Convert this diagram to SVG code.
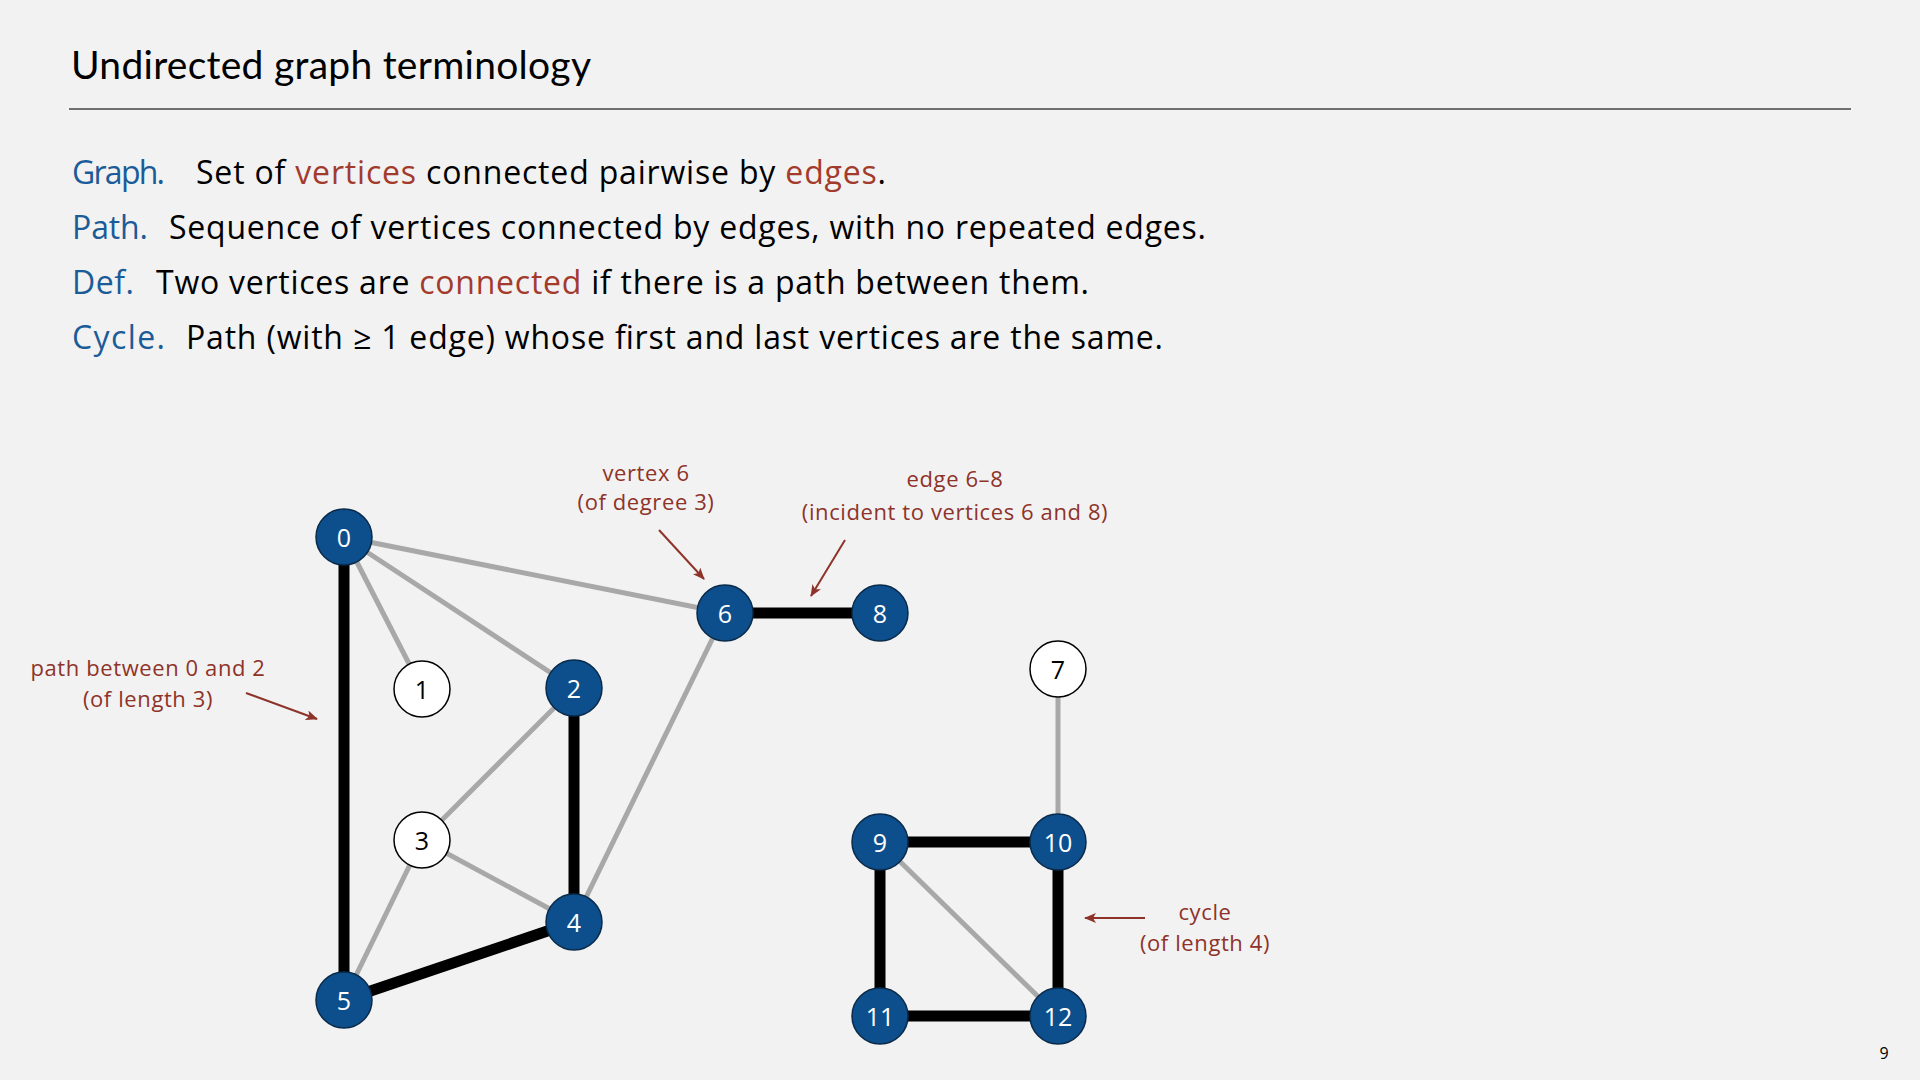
<svg xmlns="http://www.w3.org/2000/svg" width="1920" height="1080" viewBox="0 0 1920 1080">
<defs>
<style>
.bg{fill:#f2f2f2}
.title{font-family:"Lato","Liberation Sans",sans-serif;font-size:39px;fill:#000}
.body{font-family:"Open Sans","Liberation Sans",sans-serif;font-size:32px;fill:#000;white-space:pre}
.kw{fill:#1b5c98}
.hl{fill:#a33b2d}
.ann{font-family:"Open Sans","Liberation Sans",sans-serif;font-size:22px;letter-spacing:0.6px;fill:#8e3329;text-anchor:middle}
.arr{stroke:#8e3329;stroke-width:2;fill:none;marker-end:url(#ah)}
.g{stroke:#a8a8a8;stroke-width:5;fill:none}
.k{stroke:#000;stroke-width:11;fill:none}
.nb{fill:#0d4f8c;stroke:#0a2a4a;stroke-width:1.5}
.nw{fill:#fff;stroke:#000;stroke-width:1.5}
.lb{font-family:"Open Sans","Liberation Sans",sans-serif;font-size:25px;fill:#fff;text-anchor:middle;dominant-baseline:central}
.lw{font-family:"Open Sans","Liberation Sans",sans-serif;font-size:25px;fill:#000;text-anchor:middle;dominant-baseline:central}
</style>
<marker id="ah" viewBox="0 0 12 10" refX="11" refY="5" markerWidth="12" markerHeight="10" markerUnits="userSpaceOnUse" orient="auto">
<path d="M0,0 L12,5 L0,10 L3,5 Z" fill="#8e3329"/>
</marker>
</defs>
<rect class="bg" x="0" y="0" width="1920" height="1080"/>
<text class="title" x="71" y="79" textLength="520" lengthAdjust="spacing">Undirected graph terminology</text>
<line x1="69" y1="109" x2="1851" y2="109" stroke="#444" stroke-width="1.5"/>

<g id="body">
<text class="body kw" x="72" y="184" textLength="93" lengthAdjust="spacing">Graph.</text>
<text class="body" x="196" y="184" textLength="690" lengthAdjust="spacing">Set of <tspan class="hl">vertices</tspan> connected pairwise by <tspan class="hl">edges</tspan>.</text>
<text class="body kw" x="72" y="239" textLength="76" lengthAdjust="spacing">Path.</text>
<text class="body" x="169" y="239" textLength="1037" lengthAdjust="spacing">Sequence of vertices connected by edges, with no repeated edges.</text>
<text class="body kw" x="72" y="294" textLength="62" lengthAdjust="spacing">Def.</text>
<text class="body" x="156" y="294" textLength="933" lengthAdjust="spacing">Two vertices are <tspan class="hl">connected</tspan> if there is a path between them.</text>
<text class="body kw" x="72" y="349" textLength="93" lengthAdjust="spacing">Cycle.</text>
<text class="body" x="186" y="349" textLength="977" lengthAdjust="spacing">Path (with ≥ 1 edge) whose first and last vertices are the same.</text>
</g>

<g id="edges">
<line class="g" x1="344" y1="537" x2="422" y2="689"/>
<line class="g" x1="344" y1="537" x2="574" y2="688"/>
<line class="g" x1="344" y1="537" x2="725" y2="613"/>
<line class="g" x1="574" y1="688" x2="422" y2="840"/>
<line class="g" x1="422" y1="840" x2="574" y2="922"/>
<line class="g" x1="422" y1="840" x2="344" y2="1000"/>
<line class="g" x1="725" y1="613" x2="574" y2="922"/>
<line class="g" x1="1058" y1="669" x2="1058" y2="842"/>
<line class="g" x1="880" y1="842" x2="1058" y2="1016"/>
<line class="k" x1="344" y1="537" x2="344" y2="1000"/>
<line class="k" x1="574" y1="688" x2="574" y2="922"/>
<line class="k" x1="574" y1="922" x2="344" y2="1000"/>
<line class="k" x1="725" y1="613" x2="880" y2="613"/>
<line class="k" x1="880" y1="842" x2="1058" y2="842"/>
<line class="k" x1="880" y1="842" x2="880" y2="1016"/>
<line class="k" x1="1058" y1="842" x2="1058" y2="1016"/>
<line class="k" x1="880" y1="1016" x2="1058" y2="1016"/>
</g>

<g id="n0"><circle class="nb" cx="344" cy="537" r="28"/><text class="lb" x="344" y="537">0</text></g>
<g id="n1"><circle class="nw" cx="422" cy="689" r="28"/><text class="lw" x="422" y="689">1</text></g>
<g id="n2"><circle class="nb" cx="574" cy="688" r="28"/><text class="lb" x="574" y="688">2</text></g>
<g id="n3"><circle class="nw" cx="422" cy="840" r="28"/><text class="lw" x="422" y="840">3</text></g>
<g id="n4"><circle class="nb" cx="574" cy="922" r="28"/><text class="lb" x="574" y="922">4</text></g>
<g id="n5"><circle class="nb" cx="344" cy="1000" r="28"/><text class="lb" x="344" y="1000">5</text></g>
<g id="n6"><circle class="nb" cx="725" cy="613" r="28"/><text class="lb" x="725" y="613">6</text></g>
<g id="n7"><circle class="nw" cx="1058" cy="669" r="28"/><text class="lw" x="1058" y="669">7</text></g>
<g id="n8"><circle class="nb" cx="880" cy="613" r="28"/><text class="lb" x="880" y="613">8</text></g>
<g id="n9"><circle class="nb" cx="880" cy="842" r="28"/><text class="lb" x="880" y="842">9</text></g>
<g id="n10"><circle class="nb" cx="1058" cy="842" r="28"/><text class="lb" x="1058" y="842">10</text></g>
<g id="n11"><circle class="nb" cx="880" cy="1016" r="28"/><text class="lb" x="880" y="1016">11</text></g>
<g id="n12"><circle class="nb" cx="1058" cy="1016" r="28"/><text class="lb" x="1058" y="1016">12</text></g>

<g id="annotations">
<text class="ann" x="646" y="481">vertex 6</text>
<text class="ann" x="646" y="510">(of degree 3)</text>
<line class="arr" x1="659" y1="530" x2="704" y2="579"/>
<text class="ann" x="955" y="487">edge 6–8</text>
<text class="ann" x="955" y="520">(incident to vertices 6 and 8)</text>
<line class="arr" x1="845" y1="540" x2="811" y2="596"/>
<text class="ann" x="148" y="676">path between 0 and 2</text>
<text class="ann" x="148" y="707">(of length 3)</text>
<line class="arr" x1="246" y1="693" x2="317" y2="719"/>
<text class="ann" x="1205" y="920">cycle</text>
<text class="ann" x="1205" y="951">(of length 4)</text>
<line class="arr" x1="1145" y1="918" x2="1085" y2="918"/>
</g>
<text x="1884" y="1059" font-family="Open Sans, Liberation Sans, sans-serif" font-size="16" text-anchor="middle" fill="#000">9</text>
</svg>
